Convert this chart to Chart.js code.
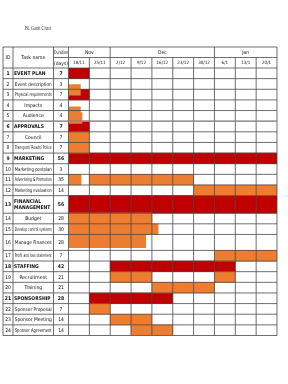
<!DOCTYPE html>
<html>
<head>
<meta charset="utf-8">
<script src="https://cdn.jsdelivr.net/npm/chart.js@4"></script>
<style>
  html, body { margin: 0; background: #fff; }
  canvas { display: block; }
</style>
</head>
<body>
<canvas id="gantt" width="288" height="384"></canvas>
<script>
/// Chart title
const TITLE = "B1 Gantt Chart";

/// Task table
const taskIds = [1, 2, 3, 4, 5, 6, 7, 8, 9, 10, 11, 12, 13, 14, 15, 16, 17, 18, 19, 20, 21, 22, 23, 24];
const taskNames = [
  "EVENT PLAN", "Event description", "Physical requirements", "Impacts", "Audience",
  "APPROVALS", "Council", "Transport/ Roads/ Police", "MARKETING", "Marketing postplan",
  "Advertising & Promotion", "Marketing evaluation", "FINANCIAL MANAGEMENT", "Budget",
  "Develop control systems", "Manage Finances", "Profit and loss statement", "STAFFING",
  "Recruitment", "Training", "SPONSORSHIP", "Sponsor Proposal", "Sponsor Meeting", "Sponsor Agreement"
];
const durations = [7, 3, 7, 4, 4, 7, 7, 7, 56, 3, 35, 14, 56, 28, 30, 28, 7, 42, 21, 21, 28, 7, 14, 14];
const summaryRows = [1, 6, 9, 13, 18, 21];

/// Timeline header
const months = ["Nov", "Dec", "Jan"];
const monthWeeks = [2, 5, 3];
const weekLabels = ["18/11", "25/11", "2/12", "9/12", "16/12", "23/12", "30/12", "6/1", "13/1", "20/1"];

/// Bars: [row, start week, end week, row shift] (weeks counted from 18/11)
const redBars = [
  [1, 0, 1], [3, 0, 1], [6, 0, 1], [9, 0, 10], [13, 0, 10], [18, 2, 8], [21, 1, 5]
];
const orangeBars = [
  [2, 0, 0.57, 0.55], [4, 0, 0.57, 0.65], [5, 0, 0.65, 0.2], [7, 0, 1], [8, 0, 1],
  [11, 0, 0.6], [11, 1, 6], [12, 6, 10], [14, 0, 4], [15, 0, 4.3], [16, 0, 3.7, -0.25],
  [17, 7, 10], [19, 2, 4], [19, 7, 8], [20, 4, 7], [22, 1, 2], [23, 2, 4], [24, 3, 5]
];

// ── Layout ──────────────────────────────────────────────────────────

const RED = "#C00000";
const ORANGE = "#ED7D31";
const LINE = "#4a4a4a";
const FONT = "'Liberation Sans Narrow', 'DejaVu Sans Condensed', 'Liberation Sans', sans-serif";

const PAD = { left: 68.5, right: 11, top: 68, bottom: 48.5 };
const TABLE_TOP = 47;
const HEADER_MID = 57.5;
const TEXT_COLS = [3, 13, 53.5];          // left edges of ID / Task / Duration
const TALL_ROWS = { 13: 1.65, 16: 1.5 };  // rows taller than one line

const rowSpan = r => TALL_ROWS[r] || 1;
const rowTop = [];
let totalRows = 0;
for (const id of taskIds) { rowTop.push(totalRows); totalRows += rowSpan(id); }
const PX_PER_ROW = (384 - PAD.top - PAD.bottom) / totalRows;

/// Group bars by row height so each dataset can carry its own thickness.
function barSets(bars, color) {
  const groups = {};
  for (const [row, from, to, shift = 0] of bars) {
    const span = rowSpan(row);
    (groups[span] = groups[span] || []).push({ x: [from, to], y: rowTop[row - 1] + shift + span / 2 });
  }
  return Object.keys(groups).map(span => ({
    data: groups[span],
    backgroundColor: color,
    borderWidth: 0,
    barThickness: Number(span) * PX_PER_ROW,
    grouped: true,
    stack: "g"
  }));
}

// ── Table plugin: grid, headers and task columns ────────────────────

const tablePlugin = {
  id: "table",
  afterDatasetsDraw(chart) {
    const { ctx, chartArea: a, scales: { x, y } } = chart;
    const right = a.right;
    const bottom = a.bottom;
    const edges = [...TEXT_COLS, a.left];

    ctx.save();
    ctx.strokeStyle = LINE;
    ctx.lineWidth = 0.8;
    const line = (x1, y1, x2, y2) => {
      ctx.beginPath(); ctx.moveTo(x1, y1); ctx.lineTo(x2, y2); ctx.stroke();
    };

    // horizontal lines
    line(edges[0], TABLE_TOP, right, TABLE_TOP);
    line(edges[2], HEADER_MID, right, HEADER_MID);
    for (let i = 0; i <= taskIds.length; i++) {
      const u = i < taskIds.length ? rowTop[i] : totalRows;
      line(edges[0], y.getPixelForValue(u), right, y.getPixelForValue(u));
    }
    // vertical lines
    for (const e of edges) line(e, TABLE_TOP, e, bottom);
    line(right, TABLE_TOP, right, bottom);
    let acc = 0;
    for (let m = 0; m < monthWeeks.length - 1; m++) {
      acc += monthWeeks[m];
      line(x.getPixelForValue(acc), TABLE_TOP, x.getPixelForValue(acc), HEADER_MID);
    }
    for (let w = 1; w < weekLabels.length; w++) {
      line(x.getPixelForValue(w), HEADER_MID, x.getPixelForValue(w), bottom);
    }
    // light separator under "Audience"
    ctx.strokeStyle = "rgba(150,150,150,0.8)";
    ctx.lineWidth = 1.6;
    line(edges[0], y.getPixelForValue(rowTop[5]), right, y.getPixelForValue(rowTop[5]));

    // texts
    ctx.fillStyle = "#111";
    ctx.textBaseline = "middle";
    ctx.textAlign = "center";
    ctx.font = "5px " + FONT;
    const headMid = (TABLE_TOP + a.top) / 2;
    ctx.fillText("ID", (edges[0] + edges[1]) / 2, headMid);
    ctx.fillText("Task name", (edges[1] + edges[2]) / 2, headMid, 30);
    ctx.fillText("Duration", (edges[2] + edges[3]) / 2, (TABLE_TOP + HEADER_MID) / 2 + 0.5, 14);
    ctx.fillText("(days)", (edges[2] + edges[3]) / 2, (HEADER_MID + a.top) / 2 + 0.5, 14);
    acc = 0;
    months.forEach((m, i) => {
      const cx = (x.getPixelForValue(acc) + x.getPixelForValue(acc + monthWeeks[i])) / 2;
      ctx.fillText(m, cx, (TABLE_TOP + HEADER_MID) / 2 + 0.5);
      acc += monthWeeks[i];
    });
    ctx.font = "4.5px " + FONT;
    weekLabels.forEach((w, i) => {
      ctx.fillText(w, x.getPixelForValue(i + 0.5), (HEADER_MID + a.top) / 2 + 0.5, 14);
    });

    taskIds.forEach((id, i) => {
      const span = rowSpan(id);
      const cy = y.getPixelForValue(rowTop[i] + span / 2) + 0.3;
      const bold = summaryRows.includes(id);
      ctx.font = (bold ? "bold " : "") + "5px " + FONT;
      ctx.textAlign = "center";
      ctx.fillText(String(id), (edges[0] + edges[1]) / 2, cy);
      ctx.fillText(String(durations[i]), (edges[2] + edges[3]) / 2, cy);
      const name = taskNames[i];
      if (bold) {
        ctx.textAlign = "left";
        if (span > 1 && name.includes(" ")) {
          const k = name.lastIndexOf(" ");
          ctx.fillText(name.slice(0, k), edges[1] + 1, cy - 3, 38);
          ctx.fillText(name.slice(k + 1), edges[1] + 1, cy + 3, 38);
        } else {
          ctx.fillText(name, edges[1] + 1, cy, 38);
        }
      } else {
        ctx.fillText(name, (edges[1] + edges[2]) / 2, cy, 37);
      }
    });

    // title
    ctx.textAlign = "left";
    ctx.fillStyle = "#333";
    ctx.font = "6px 'Liberation Serif', serif";
    ctx.fillText(TITLE, 25, 28.5, 26);
    ctx.restore();
  }
};

// ── Chart ───────────────────────────────────────────────────────────

new Chart(document.getElementById("gantt"), {
  type: "bar",
  data: {
    datasets: [...barSets(orangeBars, ORANGE), ...barSets(redBars, RED)]
  },
  options: {
    indexAxis: "y",
    responsive: false,
    animation: false,
    layout: { padding: PAD },
    plugins: { legend: { display: false }, tooltip: { enabled: false } },
    scales: {
      x: { type: "linear", min: 0, max: weekLabels.length, stacked: false, display: false },
      y: { type: "linear", min: 0, max: totalRows, reverse: true, offset: false, display: false }
    }
  },
  plugins: [tablePlugin]
});
</script>
</body>
</html>
